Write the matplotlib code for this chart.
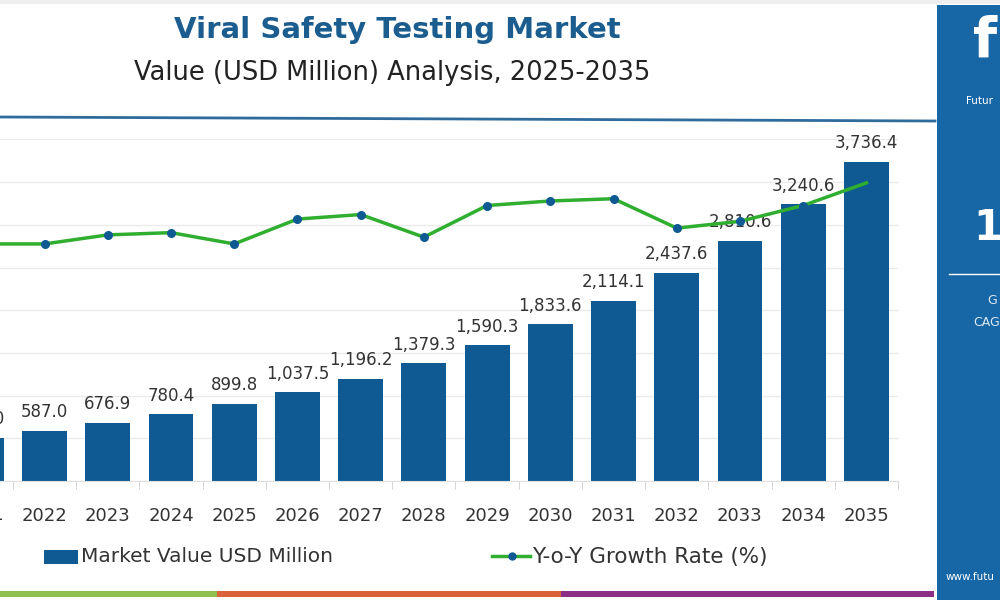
import numpy as np
import matplotlib
matplotlib.use("Agg")
import matplotlib.pyplot as plt
from matplotlib.patches import Rectangle

plt.rcParams['font.family'] = ['DejaVu Sans']

years = ['2021', '2022', '2023', '2024', '2025', '2026', '2027', '2028',
         '2029', '2030', '2031', '2032', '2033', '2034', '2035']
market_value = [509.0, 587.0, 676.9, 780.4, 899.8, 1037.5, 1196.2, 1379.3,
                1590.3, 1833.6, 2114.1, 2437.6, 2810.6, 3240.6, 3736.4]
# growth line as drawn in the picture (estimated)
growth_rate = [14.8, 14.8, 15.2, 15.3, 14.8, 15.9, 16.1, 15.1,
               16.5, 16.7, 16.8, 15.5, 15.8, 16.5, 17.5]

bar_color = '#0f5a93'
line_color = '#2fae2f'
text_color = '#333333'

fig = plt.figure(figsize=(10, 6), dpi=100)

# overlay for decorations, pixel coordinates
deco = fig.add_axes([0, 0, 1, 1], zorder=0)
deco.set_xlim(0, 1000)
deco.set_ylim(600, 0)
deco.axis('off')

deco.add_patch(Rectangle((0, 0), 1000, 4, color='#eeeeee', lw=0))
deco.plot([0, 935], [117, 121], color='#2f6c9c', lw=2)

deco.text(397, 30, 'Viral Safety Testing Market', ha='center', va='center',
          fontsize=21, fontweight='bold', color='#1b5d8e')
deco.text(392, 73, 'Value (USD Million) Analysis, 2025-2035', ha='center',
          va='center', fontsize=18.5, color='#222222')

# right side panel (cut off at the picture edge, like the original)
deco.add_patch(Rectangle((937, 5), 63, 595, color='#1766a6', lw=0))
deco.text(985, 42, 'f', ha='center', va='center', fontsize=40,
          fontweight='bold', color='white')
deco.text(966, 101, 'Futur', ha='left', va='center', fontsize=7.5, color='white')
deco.text(973, 227, '15', ha='left', va='center', fontsize=30,
          fontweight='bold', color='white')
deco.plot([949, 1000], [274, 274], color='white', lw=1)
deco.text(987, 300, 'G', ha='left', va='center', fontsize=9, color='#dde8f2')
deco.text(973, 323, 'CAGR', ha='left', va='center', fontsize=9, color='#dde8f2')
deco.text(946, 577, 'www.futu', ha='left', va='center', fontsize=7.5, color='white')

# bottom stripes
deco.add_patch(Rectangle((0, 591), 217, 6, color='#8dc04f', lw=0))
deco.add_patch(Rectangle((217, 591), 344, 6, color='#d9623b', lw=0))
deco.add_patch(Rectangle((561, 591), 373, 6, color='#8b2f86', lw=0))

# legend
deco.add_patch(Rectangle((44, 550), 34, 14, color=bar_color, lw=0))
deco.text(81, 557, 'Market Value USD Million', ha='left', va='center',
          fontsize=14.5, color=text_color)
deco.plot([492, 530], [556, 556], color=line_color, lw=2.5)
deco.plot([512], [556], 'o', color=bar_color, ms=5)
deco.text(532, 557, 'Y-o-Y Growth Rate (%)', ha='left', va='center',
          fontsize=15.5, color=text_color)

# main chart
ax = fig.add_axes([0, 1 - 481 / 600, 0.898, (481 - 139.5) / 600], zorder=2)
ax.patch.set_alpha(0)
x = np.arange(len(years))
ax.bar(x, market_value, width=0.71, color=bar_color, zorder=2)
for xi, v in zip(x, market_value):
    ax.annotate(f'{v:,.1f}', (xi, v), xytext=(0, 7), textcoords='offset points',
                ha='center', va='bottom', fontsize=12, color=text_color,
                zorder=3, annotation_clip=False)

ax.set_yticks(np.arange(0, 4001, 500))
ax.set_yticklabels([])
ax.tick_params(axis='y', length=0)
ax.grid(axis='y', color='#ebebeb', lw=1, zorder=0)
ax.set_xticks(x)
ax.set_xticklabels(years, fontsize=13, color=text_color)
ax.tick_params(axis='x', which='major', length=0, pad=19)
ax.set_xticks(np.append(x - 0.5, 14.5), minor=True)
ax.tick_params(axis='x', which='minor', length=6, color='#cccccc')
for s in ['top', 'right', 'left']:
    ax.spines[s].set_visible(False)
ax.spines['bottom'].set_color('#e0e0e0')

# first year label sits outside the view, tick labels there are dropped
ax.annotate(years[0], (x[0], 0), xytext=(0, -24.5), textcoords='offset points',
            ha='center', va='center', fontsize=13, color=text_color,
            annotation_clip=False)

ax2 = ax.twinx()
ax2.set_zorder(3)
ax2.plot(x, growth_rate, color=line_color, lw=2.5, marker='o', ms=5.5,
         mfc=bar_color, mec=bar_color, markevery=list(range(len(x) - 1)))
ax2.set_ylim(4.313, 19.42)
ax2.axis('off')

ax.set_xlim(0.295, 14.5)
ax.set_ylim(0, 4000)

fig.savefig('out.png', dpi=100)
